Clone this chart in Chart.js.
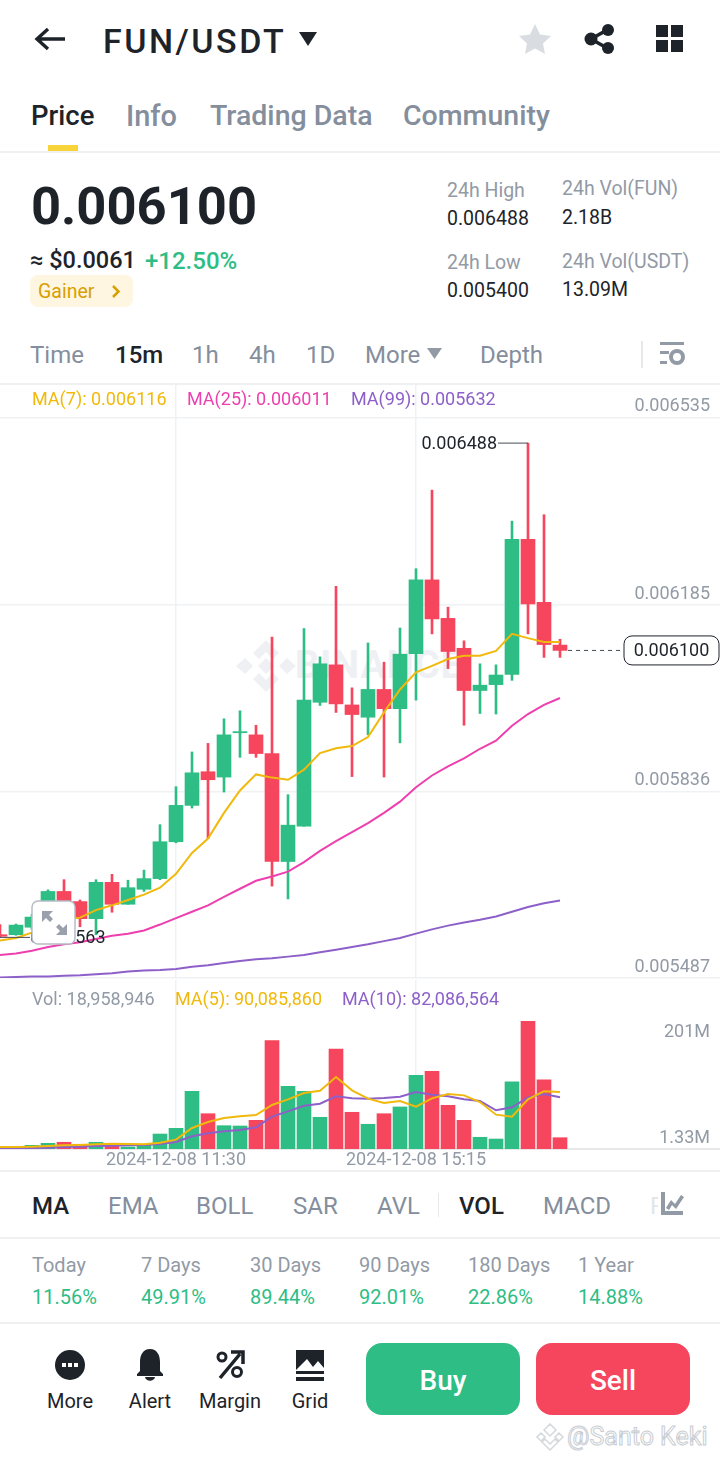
<!DOCTYPE html>
<html>
<head>
<meta charset="utf-8">
<title>FUN/USDT</title>
<script src="https://cdn.jsdelivr.net/npm/chart.js@4"></script>
<style>
  html, body { margin: 0; padding: 0; background: #fff; }
  #page { position: relative; width: 720px; height: 1458px; overflow: hidden; font-family: Roboto, sans-serif; color: #1E2329; }
  #page canvas { position: absolute; left: 0; }
  .t { position: absolute; white-space: nowrap; transform: translateY(-50%); line-height: 1; }
  .hr { position: absolute; left: 0; width: 720px; background: #EEF0F2; }
  .ic { position: absolute; }
</style>
</head>
<body>
<div id="page">
  <svg class="ic" style="left:236px;top:640px" width="60" height="52" viewBox="0 0 60 52" fill="#EEF0F3">
    <path d="M30 0l13 13-6 6-7-7-7 7-6-6zM30 52L17 39l6-6 7 7 7-7 6 6zM9 18l8 8-8 8-9-8zM51 18l9 8-9 8-8-8zM30 18l8 8-8 8-8-8z"/>
  </svg>
  <div class="t" style="left:295px;top:665px;font-size:38px;font-weight:700;color:#EEF0F3;letter-spacing:1px">BINANCE</div>
  <canvas id="priceChart" width="720" height="596" style="top:384px"></canvas>
  <canvas id="volChart" width="720" height="190" style="top:980px"></canvas>
</div>

<script>
const GREEN = '#2EBD85', RED = '#F6465D', YELLOW = '#F0B90B', PINK = '#EE3FAE', PURPLE = '#8D60C9';
const GREY = '#929AA5', DARK = '#1E2329', GRID = '#F0F1F3';

// candle times (2024-12-08, 15m)
const times = ['08:45','09:00','09:15','09:30','09:45','10:00','10:15','10:30','10:45','11:00','11:15','11:30',
  '11:45','12:00','12:15','12:30','12:45','13:00','13:15','13:30','13:45','14:00','14:15','14:30',
  '14:45','15:00','15:15','15:30','15:45','16:00','16:15','16:30','16:45','17:00','17:15','17:30'];
const timeTicks = ['11:30', '15:15'];

// prices in millionths of USDT
const opens = [5568,5568,5582,5625,5649,5630,5598,5666,5625,5653,5673,5742,5810,5873,5863,5946,5942,5907,
  5705,5771,6003,6073,5998,5975,6027,5991,6094,6232,6160,6104,6025,6036,6055,6308,6190,6110];
const closes = [5565,5586,5601,5649,5630,5598,5666,5625,5656,5673,5742,5810,5871,5858,5942,5948,5907,5705,
  5773,6007,6075,6000,5980,6027,5991,6093,6232,6159,6098,6025,6035,6054,6308,6187,6111,6100];
const highs = [5587,5588,5606,5652,5671,5633,5671,5681,5670,5689,5774,5845,5910,5926,5972,5987,5960,6125,
  5830,6141,6088,6220,6030,6114,6078,6142,6253,6400,6181,6118,6075,6073,6342,6488,6354,6121];
const lows = [5563,5567,5578,5623,5628,5583,5568,5610,5625,5649,5671,5740,5805,5748,5835,5900,5900,5659,
  5635,5771,5997,5984,5864,5942,5863,5927,6007,6131,6066,5960,5982,5981,6044,6131,6087,6087];
const ma7 = [5557,5562,5572,5584,5596,5600,5614,5623,5633,5643,5656,5682,5721,5748,5796,5838,5868,5862,
  5858,5877,5908,5917,5921,5938,5984,6027,6059,6071,6084,6090,6090,6099,6131,6123,6116,6116];
const ma25 = [5530,5533,5538,5545,5550,5554,5560,5566,5570,5576,5587,5599,5611,5623,5639,5654,5669,5677,
  5686,5704,5725,5743,5760,5777,5796,5817,5844,5866,5883,5898,5916,5931,5959,5981,5998,6011];
const ma99 = [5488,5489,5490,5490,5491,5492,5494,5496,5499,5501,5502,5504,5508,5511,5515,5519,5522,5524,
  5527,5530,5535,5540,5545,5550,5556,5562,5570,5578,5585,5591,5596,5602,5611,5620,5627,5632];
const priceTicks = [6535, 6185, 5836, 5487];

// volumes in millions
const volumes = [5.5,4.5,7.1,10.2,11.8,8.7,11.8,9.6,4.5,8.0,24.7,33.6,91.3,56.4,37.7,37.2,46.1,170.3,
  99.1,91.3,50.8,157.3,58.6,39.9,56.4,66.9,116.3,122.5,69.5,46.1,19.6,16.9,106.3,200.5,109.4,18.96];
const volMa5 = [4.4,4.4,5.0,6.0,7.0,7.6,8.6,9.7,9.1,8.6,11.2,15.9,34.1,43.4,49.7,52.3,54.4,70.0,
  78.8,88.7,92.3,113.7,92.8,79.9,73.1,76.2,67.4,80.4,87.1,85.0,74.6,54.9,51.8,78.8,91.3,90.09];
const volMa10 = [2.4,2.4,2.9,3.4,4.5,5.0,6.0,6.5,7.1,7.6,9.1,12.3,21.1,25.8,28.9,31.0,35.1,51.8,
  60.1,68.9,72.0,83.5,80.4,79.9,80.9,83.0,90.2,86.1,83.5,78.8,76.2,61.7,66.3,81.9,87.1,82.09];
const volTopTick = 201, volBottomTick = 1.33;

const candleColors = closes.map((c, i) => c >= opens[i] ? GREEN : RED);
const xLabels = times.concat(Array(10).fill(''));
const fmtPrice = v => (v / 1e6).toFixed(6);

function lineSet(data, color, order) {
  return { type: 'line', data, borderColor: color, borderWidth: 2, pointRadius: 0, tension: 0, order };
}

// scales reserve room for their labels, these charts run to the canvas edge
function noPadding(s) {
  s.paddingLeft = s.paddingRight = s.paddingTop = s.paddingBottom = 0;
}
function insideAxis(s) {
  s.width = 0;
  noPadding(s);
}

// the high/low markers and the last price tag
const priceMarks = {
  id: 'priceMarks',
  afterDatasetsDraw(chart) {
    const { ctx, scales: { x, y } } = chart;
    ctx.save();
    ctx.font = '18px Roboto';
    ctx.textBaseline = 'middle';
    ctx.strokeStyle = '#474D57';
    ctx.fillStyle = DARK;
    ctx.lineWidth = 1;

    const hi = highs.indexOf(Math.max(...highs));
    const hiX = x.getPixelForValue(hi), hiY = y.getPixelForValue(highs[hi]);
    ctx.beginPath(); ctx.moveTo(hiX, hiY); ctx.lineTo(hiX - 30, hiY); ctx.stroke();
    ctx.textAlign = 'right';
    ctx.fillText(fmtPrice(highs[hi]), hiX - 31, hiY + 1);

    const lowY = y.getPixelForValue(lows[0]);
    ctx.beginPath(); ctx.moveTo(x.getPixelForValue(0), lowY); ctx.lineTo(30, lowY); ctx.stroke();
    ctx.textAlign = 'left';
    ctx.fillText(fmtPrice(lows[0]), 30, lowY + 1);

    const last = closes.length - 1, lastY = y.getPixelForValue(closes[last]);
    ctx.setLineDash([4, 4]);
    ctx.beginPath(); ctx.moveTo(x.getPixelForValue(last) + 8, lastY); ctx.lineTo(621, lastY); ctx.stroke();
    ctx.setLineDash([]);
    ctx.beginPath(); ctx.roundRect(624, lastY - 14.5, 95, 29, 8);
    ctx.fillStyle = '#fff'; ctx.fill();
    ctx.strokeStyle = DARK; ctx.stroke();
    ctx.fillStyle = DARK;
    ctx.textAlign = 'center';
    ctx.fillText(fmtPrice(closes[last]), 671.5, lastY + 1);
    ctx.restore();
  }
};

const xBase = {
  offset: false,
  grid: { color: GRID, lineWidth: 1.5, drawTicks: false, offset: false },
  afterBuildTicks(scale) { scale.ticks = scale.ticks.filter(t => timeTicks.includes(xLabels[t.value])); }
};

new Chart(document.getElementById('priceChart'), {
  type: 'bar',
  data: {
    labels: xLabels,
    datasets: [
      lineSet(ma7, YELLOW, 1),
      lineSet(ma25, PINK, 2),
      lineSet(ma99, PURPLE, 3),
      { data: opens.map((o, i) => [o, closes[i]]), backgroundColor: candleColors, barThickness: 14, grouped: false, order: 4 },
      { data: lows.map((l, i) => [l, highs[i]]), backgroundColor: candleColors, barThickness: 2, grouped: false, order: 5 }
    ]
  },
  options: {
    responsive: false,
    animation: false,
    layout: { autoPadding: false },
    plugins: { legend: { display: false }, tooltip: { enabled: false } },
    scales: {
      x: {
        ...xBase, border: { display: false }, ticks: { display: false, autoSkip: false },
        afterFit(s) { s.height = 2; noPadding(s); }
      },
      y: {
        position: 'right', min: 5487, max: 6598.6,
        border: { display: false },
        grid: { color: GRID, lineWidth: 1.5, drawTicks: false },
        afterBuildTicks(s) { s.ticks = priceTicks.map(value => ({ value })); },
        afterFit: insideAxis,
        ticks: { mirror: true, padding: -10, labelOffset: -11, color: GREY, font: { family: 'Roboto', size: 18 }, callback: fmtPrice }
      }
    }
  },
  plugins: [priceMarks]
});

// volume labels: one sits under its tick, the other above, so each gets its own axis
function volAxis(tick, labelOffset) {
  return {
    position: 'right', min: 1.33, max: 265,
    border: { display: false },
    grid: { display: false, drawTicks: false },
    afterBuildTicks(s) { s.ticks = [{ value: tick }]; },
    afterFit: insideAxis,
    ticks: {
      mirror: true, padding: -10, labelOffset, color: GREY, font: { family: 'Roboto', size: 18 },
      callback: v => v + 'M'
    }
  };
}

new Chart(document.getElementById('volChart'), {
  type: 'bar',
  data: {
    labels: xLabels,
    datasets: [
      lineSet(volMa5, YELLOW, 1),
      lineSet(volMa10, PURPLE, 2),
      { data: volumes, backgroundColor: candleColors, barThickness: 14, order: 3 }
    ]
  },
  options: {
    responsive: false,
    animation: false,
    layout: { autoPadding: false },
    plugins: { legend: { display: false }, tooltip: { enabled: false } },
    scales: {
      x: {
        ...xBase,
        border: { display: true, color: '#E6E8EA', width: 2 },
        afterFit(s) { s.height = 21; noPadding(s); },
        ticks: {
          autoSkip: false, maxRotation: 0, padding: 1, color: GREY, font: { family: 'Roboto', size: 18 },
          callback(v) { return '2024-12-08 ' + xLabels[v]; }
        }
      },
      y: volAxis(volBottomTick, -11),
      yTop: volAxis(volTopTick, 11)
    }
  }
});

// page chrome around the charts
const page = document.getElementById('page');

function text(str, x, y, size, color, weight, extra) {
  const el = document.createElement('div');
  el.className = 't';
  el.textContent = str;
  el.style.cssText = `left:${x}px;top:${y}px;font-size:${size}px;color:${color};font-weight:${weight || 400};${extra || ''}`;
  page.appendChild(el);
  return el;
}
function icon(x, y, w, h, inner) {
  const el = document.createElement('div');
  el.innerHTML = `<svg class="ic" style="left:${x}px;top:${y}px" width="${w}" height="${h}" viewBox="0 0 ${w} ${h}">${inner}</svg>`;
  page.appendChild(el.firstChild);
}
function rule(y, h) {
  const el = document.createElement('div');
  el.className = 'hr';
  el.style.cssText = `top:${y}px;height:${h || 1}px`;
  page.appendChild(el);
}

[151, 1170, 1237, 1322].forEach(y => rule(y, 2));
rule(383, 2);

// header
icon(34, 26, 32, 26, `<path d="M14 3L3 13l11 10M3 13h28" fill="none" stroke="${DARK}" stroke-width="3.4"/>`);
text('FUN/USDT', 103, 41, 34, DARK, 500, 'letter-spacing:2.5px');
icon(299, 32, 18, 14, `<path d="M0 0h18L9 14z" fill="${DARK}"/>`);
icon(519, 24, 32, 30, '<path d="M16 0l5 10.500 11 1.500-8 7.500 2 10.500-10-5.500-10 5.500 2-10.500-8-7.500 11-1.500z" fill="#D9DCE1"/>');
icon(584, 23, 32, 32, `<path d="M23 7L7 16l16 9" fill="none" stroke="${DARK}" stroke-width="3.500"/><circle cx="24" cy="7" r="6" fill="${DARK}"/><circle cx="7" cy="16" r="6.500" fill="${DARK}"/><circle cx="24" cy="25" r="6" fill="${DARK}"/>`);
icon(656, 25, 28, 28, `<path d="M0 0h12v12H0zM15 0h12v12H15zM0 15h12v12H0zM15 15h12v12H15z" fill="${DARK}"/>`);

// tabs
const tabNames = ['Price', 'Info', 'Trading Data', 'Community'];
const tabX = [31, 126, 210, 403];
const tabSize = [27.5, 29, 28.5, 28.5];
tabNames.forEach((n, i) => text(n, tabX[i], 116, tabSize[i], i ? '#848E9C' : DARK, 500));
const bar = document.createElement('div');
bar.style.cssText = 'position:absolute;left:48px;top:145px;width:30px;height:6px;background:#F8D33A';
page.appendChild(bar);

// price block
text('0.006100', 31, 206, 52.5, DARK, 700);
text('≈ $0.0061', 30, 261, 23.5, DARK, 500);
text('+12.50%', 145, 261, 24, GREEN, 500);
const badge = document.createElement('div');
badge.style.cssText = 'position:absolute;left:30px;top:275px;width:103px;height:32px;background:#FEF6E0;border-radius:8px';
page.appendChild(badge);
text('Gainer', 38, 292, 19.5, '#D89F00');
icon(111, 285, 10, 13, '<path d="M2 1l5.500 5.500L2 12" fill="none" stroke="#D89F00" stroke-width="2.500"/>');

const statLabels = ['24h High', '24h Vol(FUN)', '24h Low', '24h Vol(USDT)'];
const statValues = ['0.006488', '2.18B', '0.005400', '13.09M'];
const statX = [447, 562, 447, 562];
const statY = [191, 189, 263, 262];
const statValueY = [219, 218, 291, 290];
statLabels.forEach((l, i) => {
  text(l, statX[i], statY[i], 19.5, GREY);
  text(statValues[i], statX[i], statValueY[i], 19.5, DARK);
});

// interval row
const intervals = ['Time', '15m', '1h', '4h', '1D', 'More', 'Depth'];
const intervalX = [30, 115, 192, 249, 306, 365, 480];
intervals.forEach((n, i) => text(n, intervalX[i], 355, 24, n === '15m' ? DARK : '#848E9C', n === '15m' ? 500 : 400));
icon(427, 348, 15, 11, `<path d="M0 0h15L7.500 11z" fill="${GREY}"/>`);
icon(641, 341, 2, 27, '<path d="M0 0h2v27H0z" fill="#E6E8EA"/>');
icon(660, 342, 25, 25, `<path d="M0 0h24v3H0zM0 9h9v3H0zM0 19h7v3H0z" fill="${GREY}"/><circle cx="17" cy="15" r="6" fill="none" stroke="${GREY}" stroke-width="4"/>`);

// chart legends
text('MA(7): 0.006116', 32, 399, 18, YELLOW);
text('MA(25): 0.006011', 187, 399, 18, PINK);
text('MA(99): 0.005632', 351, 399, 18, PURPLE);
text('Vol: 18,958,946', 32, 999, 18, GREY);
text('MA(5): 90,085,860', 175, 999, 18, YELLOW);
text('MA(10): 82,086,564', 342, 999, 18, PURPLE);

// expand button over the chart
icon(31, 900, 46, 46, `<rect x="1" y="1" width="43" height="43" rx="6" fill="#fff" stroke="#B7BDC6" stroke-width="1.500"/>
  <path d="M11 11h11l-4 4 4 4-3 3-4-4-4 4zM36 35H25l4-4-4-4 3-3 4 4 4-4z" fill="#9AA1AC"/>`);

// indicator row
const indicators = ['MA', 'EMA', 'BOLL', 'SAR', 'AVL', 'VOL', 'MACD'];
const indicatorX = [32, 108, 196, 293, 377, 459, 543];
indicators.forEach((n, i) => {
  const on = n === 'MA' || n === 'VOL';
  text(n, indicatorX[i], 1206, 24, on ? DARK : '#848E9C', on ? 500 : 400);
});
icon(438, 1193, 1, 24, '<path d="M0 0h1v24H0z" fill="#E6E8EA"/>');
text('R', 650, 1206, 24, '#E3E5E8');
icon(658, 1190, 30, 30, `<path d="M0 0h30v30H0z" fill="#fff"/><path d="M3 2h4v19h18v4H3z" fill="${GREY}"/><path d="M8 18l5-8 4 4 6-9 3 2-8 12-4-4-3 5z" fill="${GREY}"/>`);

// performance row
const periods = ['Today', '7 Days', '30 Days', '90 Days', '180 Days', '1 Year'];
const periodChanges = ['11.56%', '49.91%', '89.44%', '92.01%', '22.86%', '14.88%'];
const periodX = [32, 141, 250, 359, 468, 578];
periods.forEach((p, i) => {
  text(p, periodX[i], 1265, 20, GREY);
  text(periodChanges[i], periodX[i], 1297, 20, GREEN);
});

// bottom bar
const actions = ['More', 'Alert', 'Margin', 'Grid'];
const actionX = [70, 150, 230, 310];
actions.forEach((a, i) => {
  text(a, actionX[i], 1401, 20, DARK, 400, 'transform:translate(-50%,-50%)');
});
icon(55, 1350, 30, 30, `<circle cx="15" cy="15" r="15" fill="${DARK}"/><path d="M7 13h4v4H7zM13 13h4v4h-4zM19 13h4v4h-4z" fill="#fff"/>`);
icon(136, 1349, 28, 32, `<path d="M14 0c7 0 10 6 10 13v9l3 3v2H1v-2l3-3v-9C4 6 7 0 14 0z" fill="${DARK}"/><path d="M9 28h10c-1 5-9 5-10 0z" fill="${DARK}"/>`);
icon(215, 1349, 30, 32, `<path d="M5 29L25 5M16 3h12v12" fill="none" stroke="${DARK}" stroke-width="3.500"/><circle cx="7" cy="8" r="4" fill="none" stroke="${DARK}" stroke-width="3"/><circle cx="22" cy="23" r="4.500" fill="none" stroke="${DARK}" stroke-width="3"/>`);
icon(295, 1349, 30, 32, `<path d="M1 1h28v18l-6-7-5 6-6-8-11 11zM1 22h28v3H1zM1 28h28v4H1z" fill="${DARK}"/>`);

const buyBtn = document.createElement('div');
buyBtn.style.cssText = `position:absolute;left:366px;top:1343px;width:154px;height:72px;background:${GREEN};border-radius:16px`;
page.appendChild(buyBtn);
const sellBtn = document.createElement('div');
sellBtn.style.cssText = `position:absolute;left:536px;top:1343px;width:154px;height:72px;background:${RED};border-radius:16px`;
page.appendChild(sellBtn);
text('Buy', 443, 1381, 28, '#fff', 500, 'transform:translate(-50%,-50%)');
text('Sell', 613, 1381, 28, '#fff', 500, 'transform:translate(-50%,-50%)');

// watermark
icon(535, 1423, 30, 28, '<path d="M15 1l6 6-6 6-6-6zM6 10l4 4-4 4-4-4zM24 10l4 4-4 4-4-4zM15 27l-8-8 3-3 5 5 5-5 3 3z" fill="none" stroke="#D5D8DC" stroke-width="1.500"/>');
text('@Santo Keki', 567, 1436, 25, '#fff', 400, '-webkit-text-stroke:1px #C9CDD2');
</script>
</body>
</html>
